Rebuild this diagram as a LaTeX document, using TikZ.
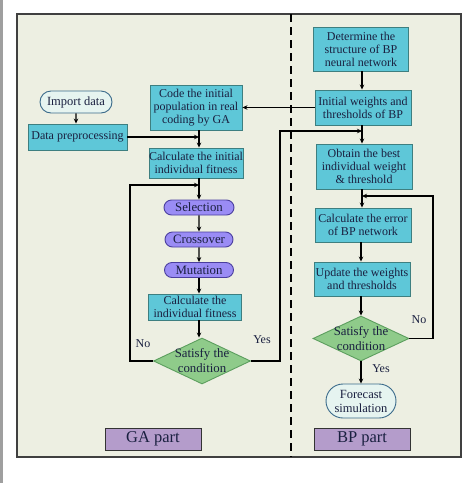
\documentclass[tikz,border=0pt]{standalone}
\usepackage{fontspec}
\setmainfont{Liberation Serif}
\usetikzlibrary{shapes.misc,shapes.geometric,arrows.meta,calc}
\definecolor{bgc}{HTML}{EDEFE2}
\definecolor{cyanf}{HTML}{5EC7D8}
\definecolor{cyand}{HTML}{3E7F80}
\definecolor{purf}{HTML}{9A8CF5}
\definecolor{purd}{HTML}{4A3E9E}
\definecolor{grnf}{HTML}{8FCB8A}
\definecolor{grnd}{HTML}{5C9E5E}
\definecolor{partf}{HTML}{B49CCB}
\definecolor{termf}{HTML}{E6F4F0}
\definecolor{termd}{HTML}{3A6A8A}
\definecolor{txt}{HTML}{1A2040}
\tikzset{
  box/.style={rectangle, draw=cyand, fill=cyanf, line width=0.9pt, inner sep=0pt, align=center,
    font=\fontsize{12}{13}\selectfont, text=txt},
  op/.style={rounded rectangle, draw=purd, fill=purf, line width=0.9pt, inner sep=0pt,
    minimum height=15pt, minimum width=70pt, font=\fontsize{12.8}{13}\selectfont, text=txt},
  term/.style={rounded rectangle, draw=termd, fill=termf, line width=0.9pt, inner sep=0pt, align=center,
    font=\fontsize{12.5}{14}\selectfont, text=txt},
  dia/.style={diamond, draw=grnd, fill=grnf, line width=0.9pt, inner sep=0pt,
    minimum width=97pt, minimum height=46pt},
  diatext/.style={align=center, font=\fontsize{12.8}{15}\selectfont, text=txt},
  part/.style={rectangle, draw=black!80, fill=partf, line width=1pt, minimum width=96pt,
    minimum height=22pt, font=\fontsize{16.5}{17}\selectfont, text=txt},
  conn/.style={line width=1.1pt, -{Stealth[length=5pt,width=4.5pt]}},
  lab/.style={font=\fontsize{12}{13}\selectfont, text=txt}
}
\begin{document}
\begin{tikzpicture}[x=1pt,y=-1pt]
\useasboundingbox (0,0) rectangle (474,483);
\fill[gray!75] (0,0) rectangle (2.5,483);
\draw[fill=bgc, draw=black!75, line width=1.2pt] (17,14) rectangle (461,457);
\draw[line width=1.2pt, dash pattern=on 8pt off 5pt] (291,14) -- (291,457);

% GA side
\node[term, minimum width=72pt, minimum height=22pt] (imp) at (76,102) {Import data};
\node[box, minimum width=99pt, minimum height=26pt] (pre) at (77.5,137) {Data preprocessing};
\node[box, minimum width=92pt, minimum height=45pt] (code) at (196,107.5) {Code the initial\\population in real\\coding by GA};
\node[box, minimum width=92pt, minimum height=30pt] (calc1) at (196,163) {Calculate the initial\\individual fitness};
\node[op] (sel) at (199,207.5) {Selection};
\node[op, minimum width=68pt] (cro) at (199,239.5) {Crossover};
\node[op, minimum width=69pt] (mut) at (199,270) {Mutation};
\node[box, minimum width=93pt, minimum height=26pt] (calc2) at (195,307) {Calculate the\\individual fitness};
\node[dia] (d1) at (202,361) {};
\node[diatext] at (d1) {Satisfy the\\condition};
\node[part] (ga) at (153,439) {GA part};

% BP side
\node[box, minimum width=95pt, minimum height=44pt] (det) at (361,49) {Determine the\\structure of BP\\neural network};
\node[box, minimum width=96pt, minimum height=35pt] (init) at (363,107.5) {Initial weights and\\thresholds of BP};
\node[box, minimum width=96pt, minimum height=45pt] (obt) at (364,166.5) {Obtain the best\\individual weight\\\& threshold};
\node[box, minimum width=96pt, minimum height=34pt] (err) at (363,225) {Calculate the error\\of BP network};
\node[box, minimum width=96pt, minimum height=34pt] (upd) at (362,279) {Update the weights\\and thresholds};
\node[dia, minimum width=96pt, minimum height=45pt] (d2) at (361,338.5) {};
\node[diatext] at (d2) {Satisfy the\\condition};
\node[term, minimum width=70pt, minimum height=34pt] (fc) at (361,401) {Forecast\\simulation};
\node[part] (bp) at (362,439) {BP part};

\coordinate (yesc) at (280,131);
\coordinate (noc) at (130,185);
\coordinate (no2c) at (433,196);
\coordinate (rc) at (362,0);

% GA connectors
\draw[conn] (imp) -- (pre.north -| imp);
\draw[conn] (pre.east) -- (pre.east -| sel);
\draw[conn] (code.south -| sel) -- (calc1.north -| sel);
\draw[conn] (calc1.south -| sel) -- (sel.north);
\draw[conn] (sel) -- (cro);
\draw[conn] (cro) -- (mut);
\draw[conn] (mut.south) -- (calc2.north -| mut);
\draw[conn] (calc2.south -| mut) -- (d1.north -| mut);
\draw[conn] (d1.west) -| (noc) -- (noc -| sel);
\draw[conn] (d1.east) -| (yesc) -- (yesc -| rc);
\node[lab] at (143,344) {No};
\node[lab] at (262,340) {Yes};

% BP connectors
\draw[conn] (init.west) -- (code.east);
\draw[conn] (det.south -| rc) -- (init.north -| rc);
\draw[conn] (init.south -| rc) -- (obt.north -| rc);
\draw[conn] (obt.south -| rc) -- (err.north -| rc);
\draw[conn] (err.south -| d2) -- (upd.north -| d2);
\draw[conn] (upd.south -| d2) -- (d2.north);
\draw[conn] (d2.south) -- (fc.north);
\draw[conn] (d2.east) -| (no2c) -- (no2c -| rc);
\node[lab] at (419,320) {No};
\node[lab] at (381,369) {Yes};
\end{tikzpicture}
\end{document}
